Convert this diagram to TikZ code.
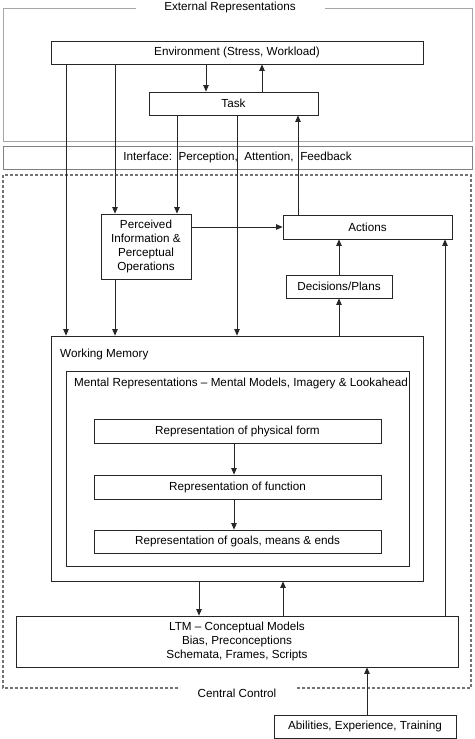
\documentclass[tikz,border=0pt]{standalone}
\usepackage{fontspec}
\setmainfont{Liberation Sans}
\usetikzlibrary{arrows.meta}
\begin{document}
\begin{tikzpicture}[x=1pt,y=-1pt,
  box/.style={draw=black!85,line width=0.8pt,rectangle,inner sep=1pt,font=\fontsize{11.7}{14}\selectfont,align=center},
  arr/.style={draw=black!85,line width=0.8pt,-{Triangle[length=6.5pt,width=5.5pt]}},
  ln/.style={draw=black!85,line width=0.8pt},
  lbl/.style={font=\fontsize{11.7}{14}\selectfont,inner sep=0pt}]
\useasboundingbox (0,0) rectangle (474,739);
% external representations frame
\draw[black!35,line width=0.6pt] (136,8) -- (3,8) -- (3,141) -- (472,141) -- (472,8) -- (325,8);
\node[lbl] (extlbl) at (230,7) {External Representations};
% central control frame
\draw[black!55,line width=1.6pt,dash pattern=on 3pt off 2pt]
  (178,688) -- (3,688) -- (3,175) -- (471,175) -- (471,688) -- (297,688);
\node[lbl] (cclbl) at (237,693) {Central Control};
% interface
\node[box,draw=black!50,minimum width=469pt,minimum height=23pt] (iface) at (237.5,157.5) {Interface:\ \ Perception,\ \ Attention,\ \ Feedback};
% boxes
\node[box,minimum width=372pt,minimum height=23pt] (env) at (237,52.5) {Environment (Stress, Workload)};
\node[box,minimum width=169pt,minimum height=23pt] (task) at (233.5,103.5) {Task};
\node[box,minimum width=90pt,minimum height=65pt] (perc) at (146,246.5) {Perceived\\Information \&\\Perceptual\\Operations};
\node[box,minimum width=169pt,minimum height=24pt] (act) at (367.5,227) {Actions};
\node[box,minimum width=106pt,minimum height=23pt] (dec) at (339,286.5) {Decisions/Plans};
\node[box,minimum width=372pt,minimum height=245pt] (wm) at (237,458.5) {};
\node[lbl,anchor=west] (wmlbl) at (60,354) {Working Memory};
\node[box,minimum width=343pt,minimum height=195pt] (mr) at (237.5,468.5) {};
\node[lbl,anchor=west] (mrlbl) at (74,383) {Mental Representations -- Mental Models, Imagery \& Lookahead};
\node[box,minimum width=287pt,minimum height=24pt] (r1) at (237.5,431) {Representation of physical form};
\node[box,minimum width=287pt,minimum height=24pt] (r2) at (237.5,487) {Representation of function};
\node[box,minimum width=287pt,minimum height=23pt] (r3) at (237.5,541.5) {Representation of goals, means \& ends};
\node[box,minimum width=442pt,minimum height=51pt] (ltm) at (237,641.5) {LTM -- Conceptual Models\\Bias, Preconceptions\\Schemata, Frames, Scripts};
\node[box,minimum width=182pt,minimum height=23pt] (abil) at (365,726.5) {Abilities, Experience, Training};
% columns
\coordinate (cA) at (66,0);
\coordinate (cB) at (115,0);
\coordinate (cC) at (177,0);
\coordinate (cD) at (206,0);
\coordinate (cE) at (237,0);
\coordinate (cF) at (262,0);
\coordinate (cG) at (298,0);
\coordinate (cH) at (339,0);
\coordinate (cI) at (445,0);
\coordinate (cJ) at (234,0);
\coordinate (cK) at (199,0);
\coordinate (cL) at (283,0);
\coordinate (cM) at (367,0);
% connectors
\draw[arr] (env.south -| cA) -- (wm.north -| cA);
\draw[arr] (env.south -| cB) -- (perc.north -| cB);
\draw[arr] (env.south -| cD) -- (task.north -| cD);
\draw[arr] (task.north -| cF) -- (env.south -| cF);
\draw[arr] (task.south -| cC) -- (perc.north -| cC);
\draw[arr] (task.south -| cE) -- (wm.north -| cE);
\draw[arr] (act.north -| cG) -- (task.south -| cG);
\draw[arr] (perc.east |- act.west) -- (act.west);
\draw[arr] (perc.south -| cB) -- (wm.north -| cB);
\draw[arr] (dec.north) -- (act.south -| dec.north);
\draw[arr] (wm.north -| cH) -- (dec.south);
\draw[arr] (ltm.north -| cI) -- (act.south -| cI);
\draw[arr] (wm.south -| cK) -- (ltm.north -| cK);
\draw[arr] (ltm.north -| cL) -- (wm.south -| cL);
\draw[arr] (r1.south -| cJ) -- (r2.north -| cJ);
\draw[arr] (r2.south -| cJ) -- (r3.north -| cJ);
\draw[arr] (abil.north -| cM) -- (ltm.south -| cM);
\end{tikzpicture}
\end{document}
